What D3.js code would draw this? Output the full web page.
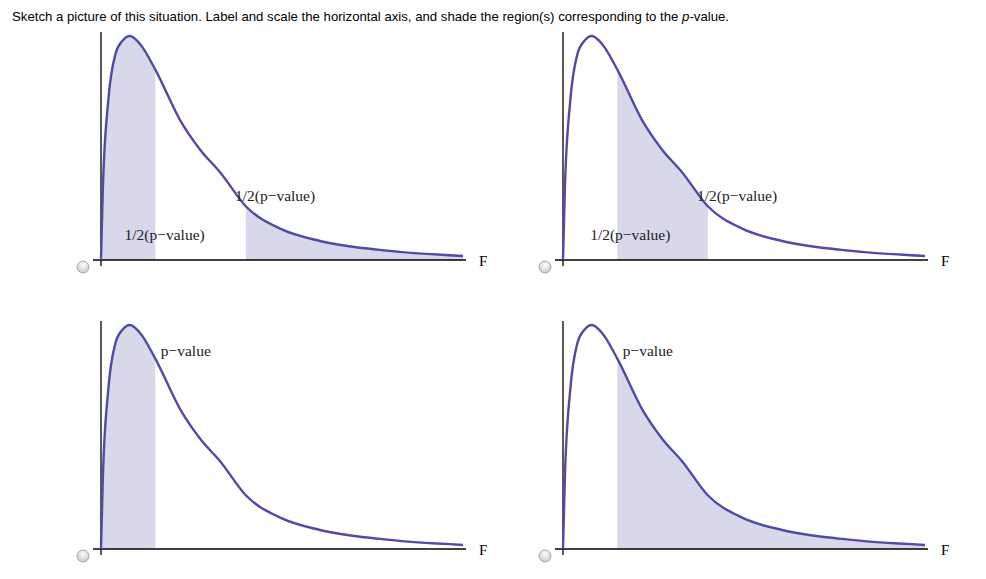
<!DOCTYPE html>
<html><head><meta charset="utf-8">
<script src="https://cdn.jsdelivr.net/npm/d3@7"></script>
<style>body{margin:0;background:#fff}</style></head>
<body><svg id="c" width="986" height="579"></svg>
<script>
const curveX = [0,0.05,0.2,0.4,0.6,0.8,1.1,1.5,2.2,2.75,3.3,4.0,4.95,6.05,7.7,10];
const curveY = [0,0.31,0.71,0.92,0.98,1.0,0.96,0.85,0.62,0.49,0.39,0.24,0.14,0.085,0.045,0.018];
const panelShades = [[[0,1.5],[4,10]],[[1.5,4]],[[0,1.5]],[[1.5,10]]];
const panelLabels = [
  [{t:"1/2(p\u2212value)",x:3.7,y:0.265},{t:"1/2(p\u2212value)",x:0.65,y:0.09}],
  [{t:"1/2(p\u2212value)",x:3.7,y:0.265},{t:"1/2(p\u2212value)",x:0.75,y:0.09}],
  [{t:"p\u2212value",x:1.65,y:0.86}],
  [{t:"p\u2212value",x:1.65,y:0.86}]
];
const svg = d3.select("#c");
const title = svg.append("text").attr("x",12).attr("y",21).attr("font-family","Liberation Sans, Arial").attr("font-size",13.2).attr("fill","#000");
title.append("tspan").text("Sketch a picture of this situation. Label and scale the horizontal axis, and shade the region(s) corresponding to the ");
title.append("tspan").attr("font-style","italic").text("p");
title.append("tspan").text("-value.");
const defs = svg.append("defs");
const g0 = defs.append("radialGradient").attr("id","rb").attr("cx","50%").attr("cy","35%").attr("r","65%");
g0.append("stop").attr("offset","0%").attr("stop-color","#fdfdfd");
g0.append("stop").attr("offset","100%").attr("stop-color","#c8c8c8");
const data = curveX.map((x,i)=>({x, y:curveY[i]}));
const interp = x => { for(let i=1;i<curveX.length;i++){ if(x<=curveX[i]){const t=(x-curveX[i-1])/(curveX[i]-curveX[i-1]);return curveY[i-1]+t*(curveY[i]-curveY[i-1]);} } return curveY[curveY.length-1]; };
const offsets = [[0,0],[462,0],[0,289],[462,289]];
offsets.forEach(([dx,dy],p)=>{
  const g = svg.append("g").attr("transform",`translate(${dx},${dy})`);
  const x = d3.scaleLinear().domain([0,10]).range([101,463]);
  const y = d3.scaleLinear().domain([0,1]).range([260,36]);
  const line = d3.line().x(d=>x(d.x)).y(d=>y(d.y)).curve(d3.curveMonotoneX);
  const area = d3.area().x(d=>x(d.x)).y0(y(0)).y1(d=>y(d.y)).curve(d3.curveMonotoneX);
  panelShades[p].forEach(([a,b])=>{
    const pts = [{x:a,y:interp(a)}, ...data.filter(d=>d.x>a&&d.x<b), {x:b,y:interp(b)}];
    g.append("path").attr("d",area(pts)).attr("fill","#d9d8ea");
  });
  g.append("line").attr("x1",93).attr("x2",466).attr("y1",y(0)).attr("y2",y(0)).attr("stroke","#000").attr("stroke-width",1.3);
  g.append("line").attr("x1",x(0)).attr("x2",x(0)).attr("y1",32).attr("y2",266).attr("stroke","#000").attr("stroke-width",1.3);
  g.append("path").attr("d",line(data)).attr("fill","none").attr("stroke","#4e4ca6").attr("stroke-width",2.4);
  g.append("text").attr("x",479).attr("y",266).attr("font-family","Liberation Serif, DejaVu Serif").attr("font-size",15).text("F");
  panelLabels[p].forEach(l=>{
    g.append("text").attr("x",x(l.x)).attr("y",y(l.y)).attr("font-family","Liberation Serif, DejaVu Serif").attr("font-size",15.5).attr("fill","#222").text(l.t);
  });
  g.append("circle").attr("cx",83).attr("cy",267).attr("r",6).attr("fill","url(#rb)").attr("stroke","#999").attr("stroke-width",0.8);
});
</script></body></html>
